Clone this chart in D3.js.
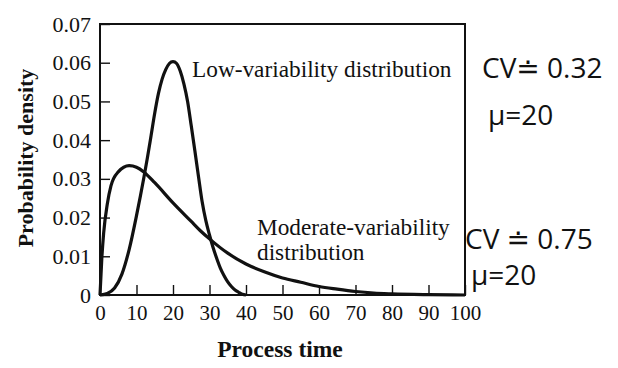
<!DOCTYPE html>
<html>
<head>
<meta charset="utf-8">
<script src="https://cdn.jsdelivr.net/npm/d3@7"></script>
<style>
  html, body { margin: 0; padding: 0; background: #fff; }
  svg { display: block; }
</style>
</head>
<body>
<svg id="chart" width="618" height="368"></svg>
<script>
// ---- data ----
const xTicks = [0, 10, 20, 30, 40, 50, 60, 70, 80, 90, 100];
const yTicks = [0, 0.01, 0.02, 0.03, 0.04, 0.05, 0.06, 0.07];
const yTickLabels = ["0", "0.01", "0.02", "0.03", "0.04", "0.05", "0.06", "0.07"];

const lowTime    = [0, 2, 4, 6, 8, 10, 12, 13, 14, 15, 16, 17, 18, 19, 20, 21, 22, 23, 24, 25, 26, 27, 28, 29, 30, 31, 32, 33, 34, 35, 36, 37, 38, 39, 40];
const lowDensity = [0, 0.0004, 0.0018, 0.0054, 0.0118, 0.0205, 0.0302, 0.0355, 0.0412, 0.0470, 0.0520, 0.0557, 0.0582, 0.0598, 0.0603, 0.0598, 0.0578, 0.0545, 0.0500, 0.0437, 0.0372, 0.0305, 0.0240, 0.0192, 0.0155, 0.0122, 0.0094, 0.0069, 0.0050, 0.0034, 0.0022, 0.0013, 0.0007, 0.0002, 0];

const modTime    = [0, 0.5, 1, 2, 3, 5, 8, 10, 12, 15, 20, 25, 27.5, 30, 35, 40, 45, 50, 55, 60, 65, 70, 75, 80, 90, 100];
const modDensity = [0, 0.0095, 0.0160, 0.0235, 0.0282, 0.0318, 0.0334, 0.0330, 0.0318, 0.0290, 0.0238, 0.0190, 0.0166, 0.0145, 0.0108, 0.0080, 0.0060, 0.0044, 0.0033, 0.0022, 0.0015, 0.0009, 0.0005, 0.0003, 0.0001, 0];

const xTitle = "Process time";
const yTitle = "Probability density";
const lowLabel = ["Low-variability distribution"];
const modLabel = ["Moderate-variability", "distribution"];
const notes = [["CV\u2250 0.32", "\u03BC=20"], ["CV \u2250 0.75", "\u03BC=20"]];

// ---- drawing ----
const svg = d3.select("#chart");
const serif = "'Liberation Serif', 'Times New Roman', serif";
const pLeft = 100, pRight = 465, pTop = 24, pBottom = 295;

const x = d3.scaleLinear().domain([0, 100]).range([pLeft, pRight]);
const y = d3.scaleLinear().domain([0, 0.07]).range([pBottom, pTop]);

// x axis (ticks point inward)
const gx = svg.append("g")
  .attr("transform", `translate(0,${pBottom})`)
  .call(d3.axisBottom(x).tickValues(xTicks).tickFormat(d3.format("d"))
    .tickSizeInner(-10).tickSizeOuter(0).tickPadding(10));
gx.select(".domain").remove();
gx.selectAll("line").attr("stroke", "#111").attr("stroke-width", 1.4);
gx.selectAll("text").attr("font-family", serif).attr("font-size", 21).attr("fill", "#111");

// y axis
const gy = svg.append("g")
  .attr("transform", `translate(${pLeft},0)`)
  .call(d3.axisLeft(y).tickValues(yTicks).tickFormat((d, i) => yTickLabels[i])
    .tickSizeInner(-10).tickSizeOuter(0).tickPadding(9));
gy.select(".domain").remove();
gy.selectAll("line").attr("stroke", "#111").attr("stroke-width", 1.4);
gy.selectAll("text").attr("font-family", serif).attr("font-size", 22).attr("fill", "#111");

// frame
svg.append("rect")
  .attr("x", pLeft).attr("y", pTop)
  .attr("width", pRight - pLeft).attr("height", pBottom - pTop)
  .attr("fill", "none").attr("stroke", "#111").attr("stroke-width", 2);

// curves
const line = d3.line().x(d => x(d[0])).y(d => y(d[1])).curve(d3.curveMonotoneX);
const lowPts = lowTime.map((t, i) => [t, lowDensity[i]]);
const modPts = modTime.map((t, i) => [t, modDensity[i]]);

svg.append("path").datum(modPts).attr("d", line)
  .attr("fill", "none").attr("stroke", "#111").attr("stroke-width", 3.2).attr("stroke-linejoin", "round");
svg.append("path").datum(lowPts).attr("d", line)
  .attr("fill", "none").attr("stroke", "#111").attr("stroke-width", 3.2).attr("stroke-linejoin", "round");

// curve labels
svg.append("text").attr("x", 192).attr("y", 77)
  .attr("font-family", serif).attr("font-size", 23.3).attr("fill", "#111")
  .text(lowLabel[0]);
svg.append("text").attr("font-family", serif).attr("font-size", 23.3).attr("fill", "#111")
  .selectAll("tspan").data(modLabel).join("tspan")
  .attr("x", 257).attr("y", (d, i) => 235 + i * 25).text(d => d);

// axis titles
svg.append("text").attr("x", 280).attr("y", 357).attr("text-anchor", "middle")
  .attr("font-family", serif).attr("font-weight", "bold").attr("font-size", 23.5).attr("fill", "#111")
  .text(xTitle);
svg.append("text").attr("transform", "translate(33,158) rotate(-90)").attr("text-anchor", "middle")
  .attr("font-family", serif).attr("font-weight", "bold").attr("font-size", 22).attr("fill", "#111")
  .text(yTitle);

// handwritten notes
const hand = "'Open Sans', 'DejaVu Sans', sans-serif";
const notePos = [[482, 78, 125], [465, 249, 285]];
notes.forEach((n, i) => {
  svg.append("text").attr("x", notePos[i][0]).attr("y", notePos[i][1])
    .attr("font-family", hand).attr("font-weight", 400).attr("font-size", 28).attr("fill", "#111")
    .text(n[0]);
  svg.append("text").attr("x", notePos[i][0] + 6).attr("y", notePos[i][2])
    .attr("font-family", hand).attr("font-weight", 400).attr("font-size", 28).attr("fill", "#111")
    .text(n[1]);
});
</script>
</body>
</html>
